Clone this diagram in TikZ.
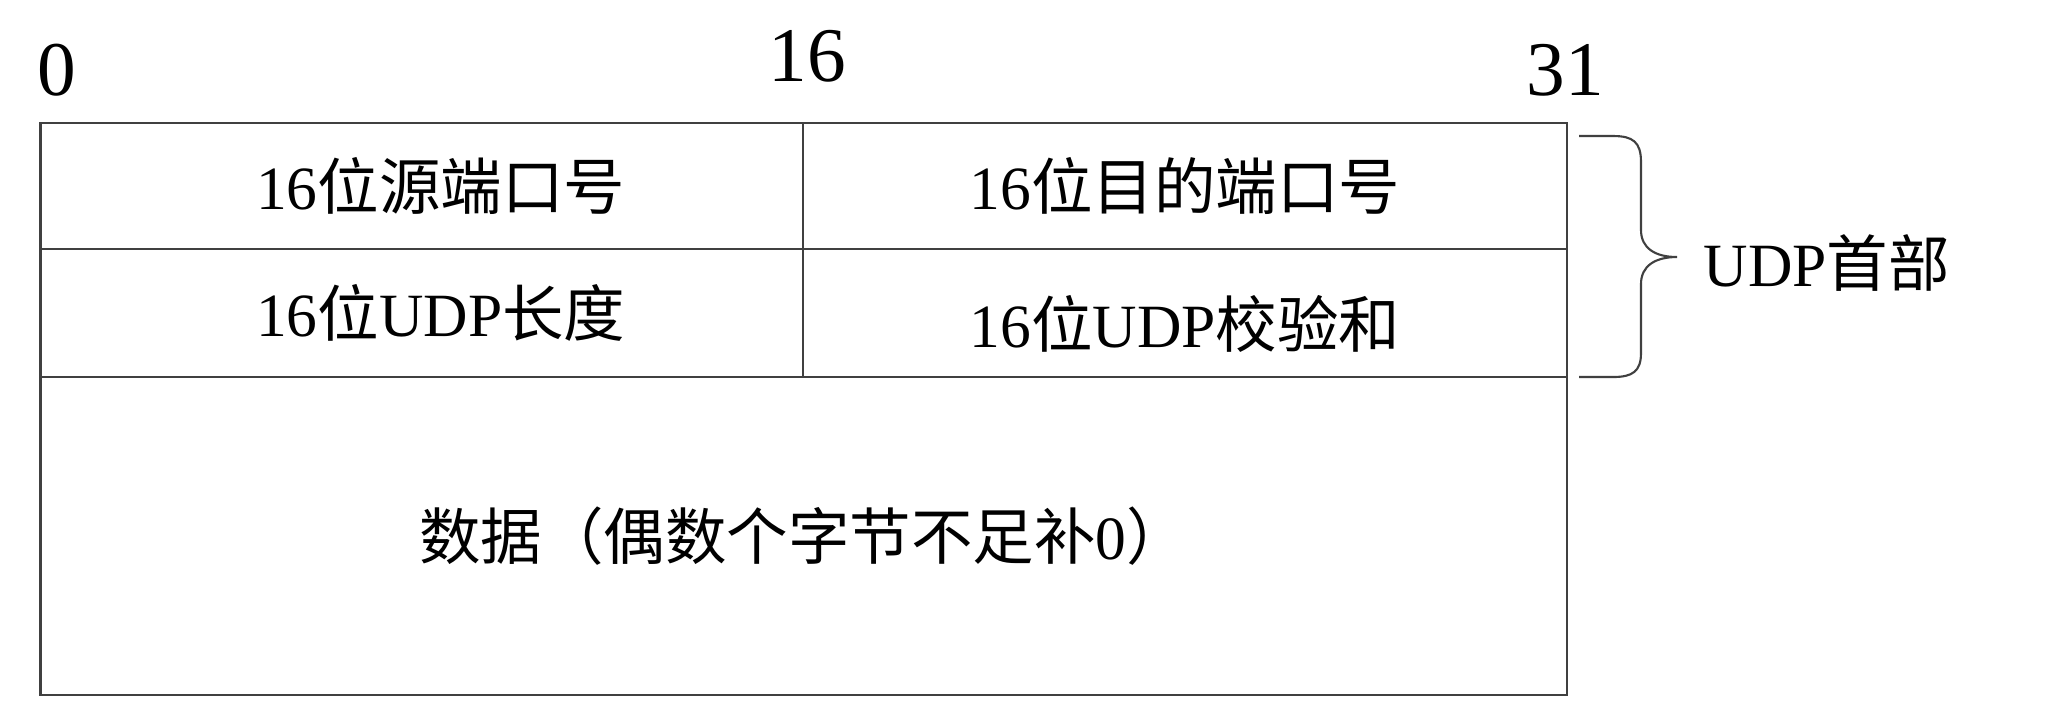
\documentclass[tikz,border=0pt]{standalone}
\usepackage{fontspec}
\setmainfont{Liberation Serif}
\newfontfamily\cjk{Noto Sans CJK SC}
\usepackage{tikz}
\usetikzlibrary{positioning}
\usetikzlibrary{calc}
\tikzstyle{field}=
[rectangle,
draw=black!75,
line width=0.6pt,
inner sep=0pt,
outer sep=0pt,
minimum height=1.26cm,
text centered,
font=\fontsize{17.5}{21}\selectfont]
\tikzstyle{bitno}=
[inner sep=0pt,
font=\fontsize{22}{26}\selectfont]
\tikzstyle{bracket}=
[line width=0.6pt,draw=black!75]

\begin{document}
\begin{tikzpicture}
\useasboundingbox (0,0) rectangle (20.48,-7);
\node (src)
[field,
minimum width=7.625cm,
anchor=north west]
at (0.405,-1.23)
{\hspace*{0.38cm}16{\cjk 位源端口号}};
\node (dst)
[field,
minimum width=7.64cm,
right=0cm of src]
{16{\cjk 位目的端口号}};
\node (len)
[field,
minimum width=7.625cm,
minimum height=1.28cm,
below=0cm of src]
{\hspace*{0.38cm}16{\cjk 位}UDP{\cjk 长度}};
\node (chk)
[field,
minimum width=7.64cm,
minimum height=1.28cm,
text height=0.76cm,
text depth=0.08cm,
below=0cm of dst]
{16{\cjk 位}UDP{\cjk 校验和}};
\node (data)
[field,
minimum width=15.265cm,
minimum height=3.18cm,
anchor=north west]
at (len.south west)
{{\cjk 数据（偶数个字节不足补}0{\cjk ）}};
% bit numbers
\node (b0) [bitno] at ($(src.north west)+(0.16,0.53)$) {0};
\node (b16) [bitno] at ($(src.north east)+(0.04,0.67)$) {16};
\node (b31) [bitno] at ($(dst.north east)+(-0.02,0.53)$) {31};
% header brace
\coordinate (hdrtop) at ($(dst.north east)+(0.12,-0.13)$);
\coordinate (hdrbot) at ($(chk.south east)+(0.12,0)$);
\coordinate (tip) at (16.77,-2.57);
\draw[bracket](hdrtop)--(16.13,-1.36)
.. controls (16.33,-1.36) and (16.41,-1.42) .. (16.41,-1.62)
--(16.41,-2.30)
.. controls (16.41,-2.48) and (16.55,-2.57) .. (tip)
.. controls (16.55,-2.57) and (16.41,-2.66) .. (16.41,-2.84)
--(16.41,-3.53)
.. controls (16.41,-3.71) and (16.33,-3.77) .. (16.13,-3.77)
--(hdrbot);
\node (hdr)
[anchor=west,
inner sep=0pt,
font=\fontsize{17.5}{21}\selectfont]
at ($(tip)+(0.26,-0.06)$)
{UDP{\cjk 首部}};
\end{tikzpicture}
\end{document}
